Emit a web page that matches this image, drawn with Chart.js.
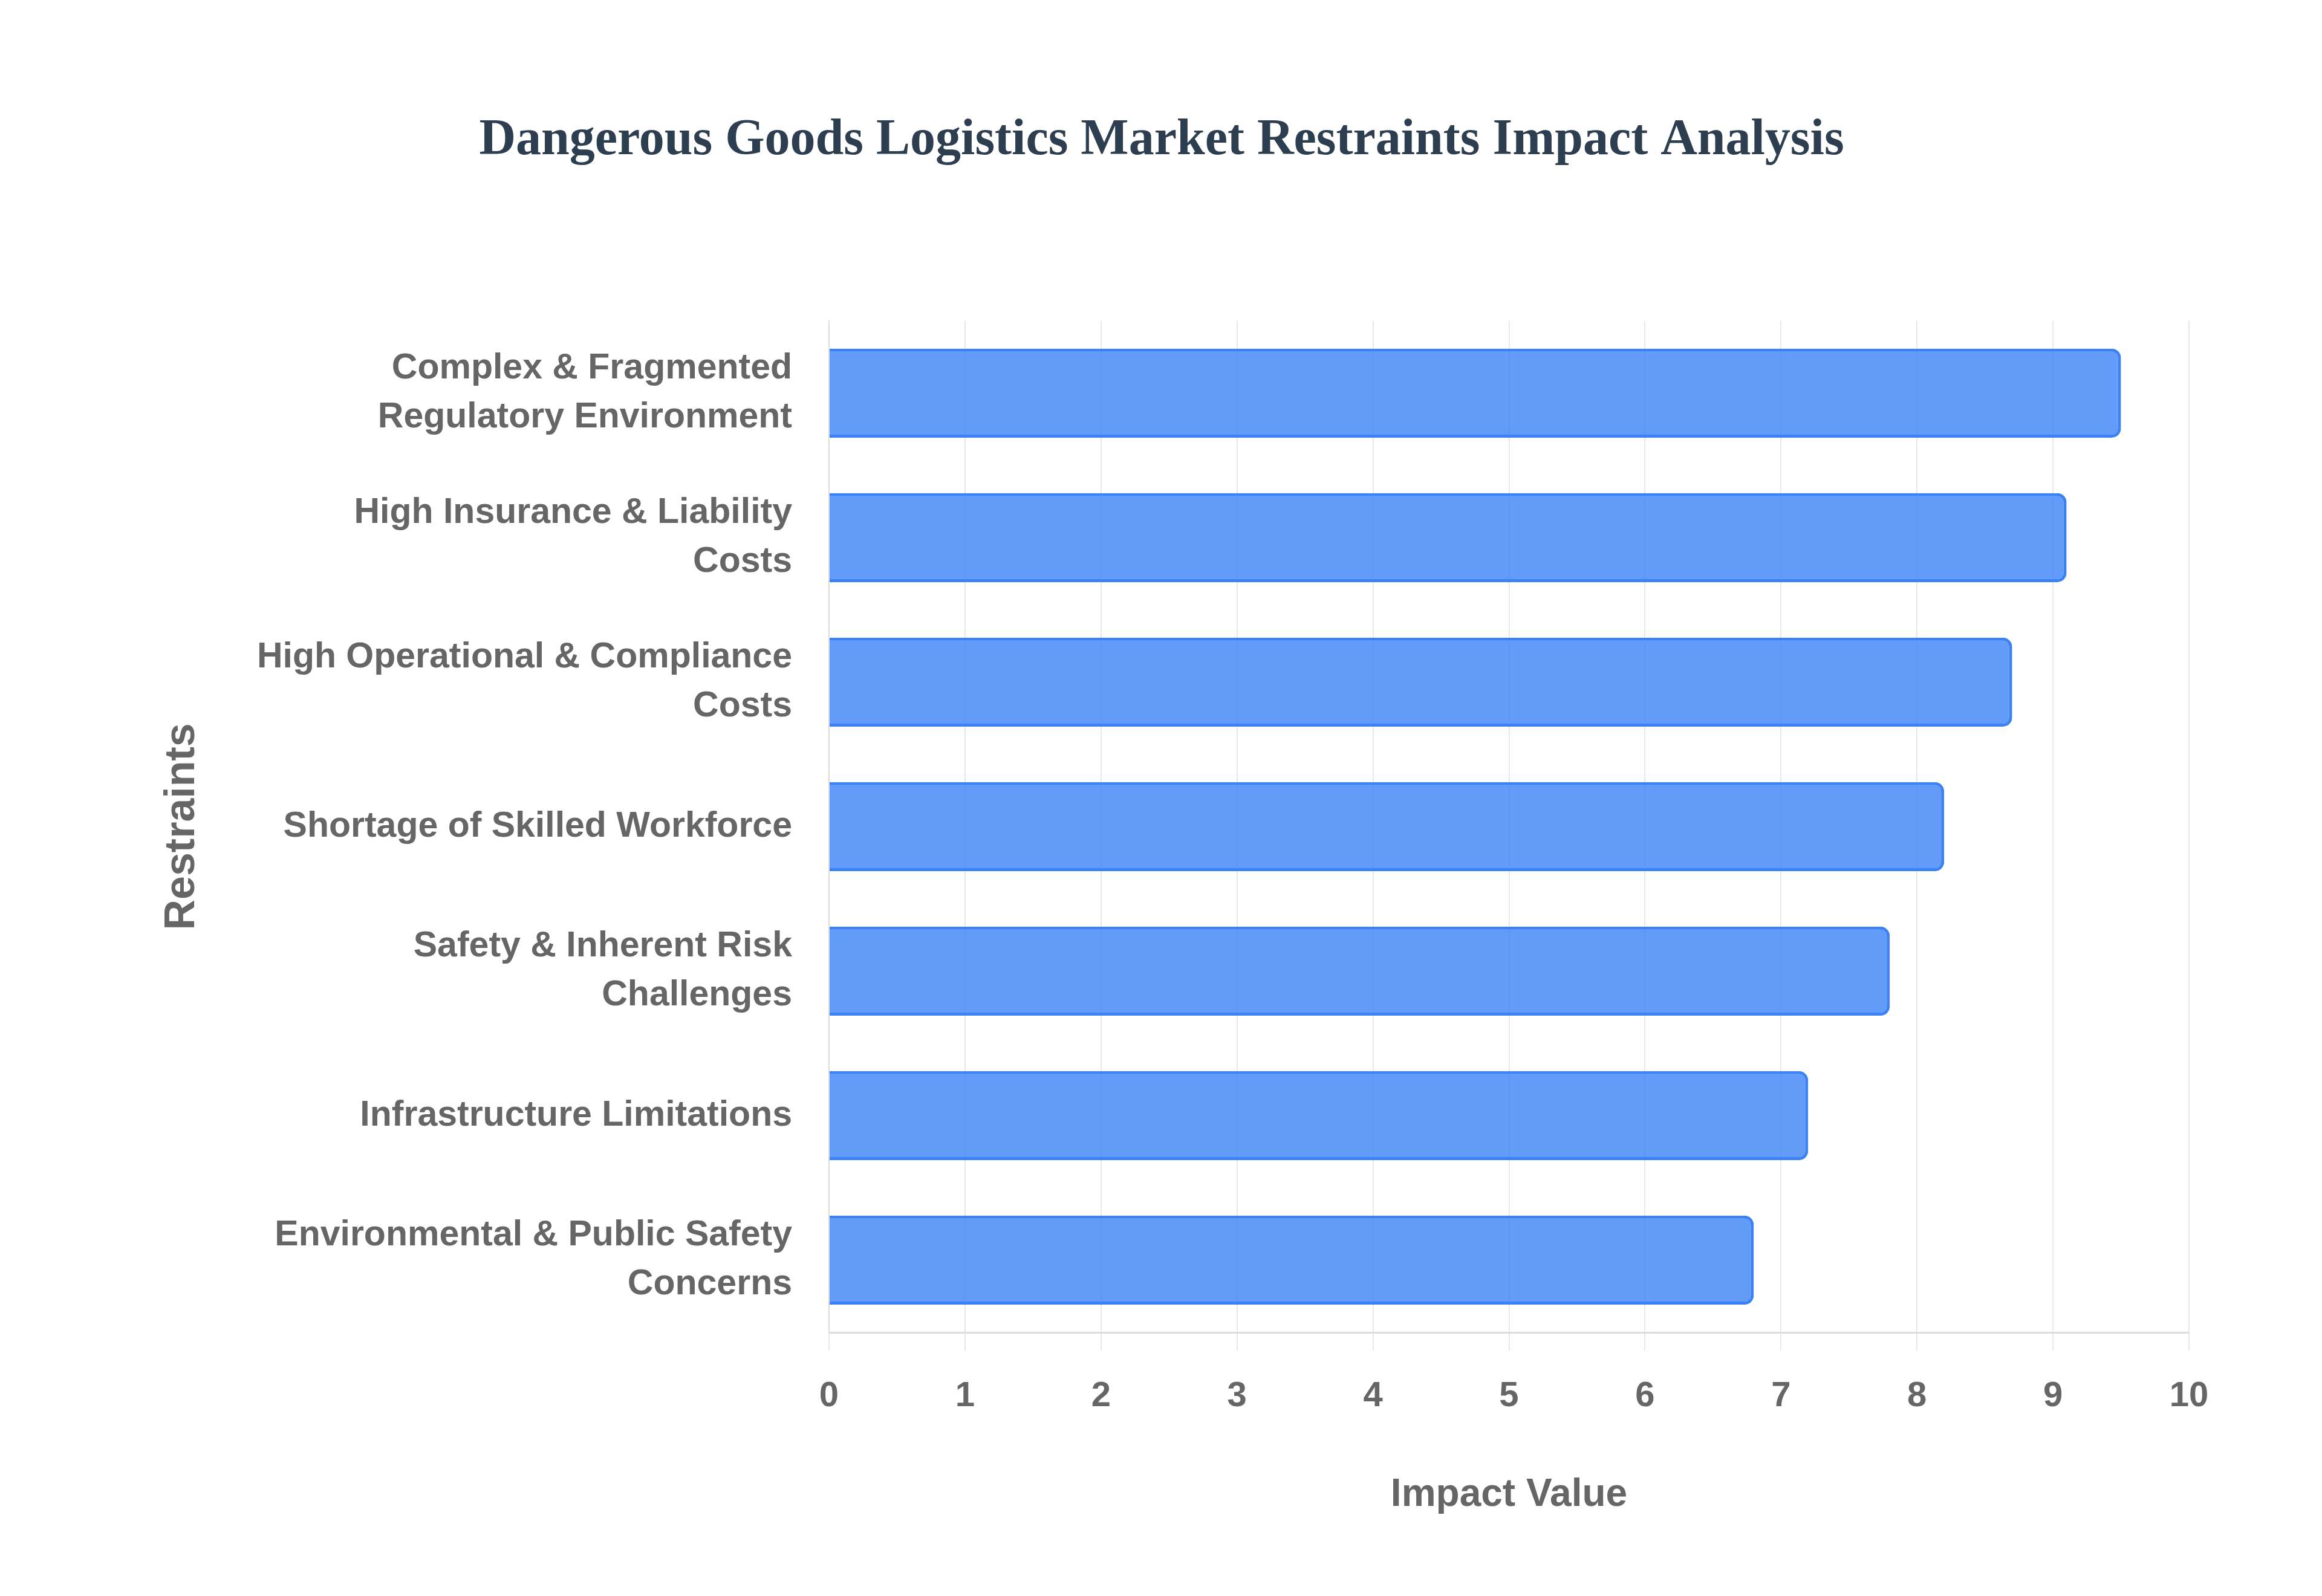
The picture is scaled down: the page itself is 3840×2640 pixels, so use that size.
<!DOCTYPE html>
<html>
<head>
<meta charset="utf-8">
<script src="https://cdn.jsdelivr.net/npm/chart.js@4.4.1/dist/chart.umd.min.js"></script>
<style>
  html, body { margin: 0; padding: 0; background: #fff; }
  #wrap { width: 3840px; height: 2640px; position: relative; }
</style>
</head>
<body>
<div id="wrap"><canvas id="chart"></canvas></div>
<script>
// === DATA ===
const restraints = [
  ['Complex & Fragmented', 'Regulatory Environment'],
  ['High Insurance & Liability', 'Costs'],
  ['High Operational & Compliance', 'Costs'],
  'Shortage of Skilled Workforce',
  ['Safety & Inherent Risk', 'Challenges'],
  'Infrastructure Limitations',
  ['Environmental & Public Safety', 'Concerns']
];
const impactValues = [9.5, 9.1, 8.7, 8.2, 7.8, 7.2, 6.8];
const xMin = 0, xMax = 10, xStep = 1;

const sans = "'Liberation Sans', Arial, sans-serif";
const tickColor = '#666666';

new Chart(document.getElementById('chart'), {
  type: 'bar',
  data: {
    labels: restraints,
    datasets: [{
      label: 'Impact Value',
      data: impactValues,
      backgroundColor: 'rgba(59,130,246,0.8)',
      borderColor: 'rgb(59,130,246)',
      borderWidth: 5,
      borderRadius: 15,
      borderSkipped: 'start',
      categoryPercentage: 0.8,
      barPercentage: 0.77
    }]
  },
  options: {
    indexAxis: 'y',
    responsive: true,
    maintainAspectRatio: false,
    devicePixelRatio: 1,
    animation: false,
    layout: { padding: { top: 0, left: 222, right: 220, bottom: 124 } },
    plugins: {
      legend: { display: false },
      tooltip: { enabled: false },
      title: {
        display: true,
        text: 'Dangerous Goods Logistics Market Restraints Impact Analysis',
        color: '#2c3e50',
        font: { family: "'Liberation Serif', 'Times New Roman', serif", size: 84, weight: 'bold' },
        padding: { top: 183, bottom: 247 }
      }
    },
    scales: {
      x: {
        min: xMin, max: xMax,
        ticks: { stepSize: xStep, color: tickColor, padding: 41, font: { family: sans, size: 58, weight: 'bold' } },
        grid: { color: 'rgba(0,0,0,0.09)', lineWidth: 2, tickLength: 30 },
        border: { color: '#dddddd', width: 3 },
        title: { display: true, text: 'Impact Value', color: tickColor, font: { family: sans, size: 64, weight: 'bold' } },
        afterFit: (s) => { s.height = 312; }
      },
      y: {
        ticks: { color: tickColor, padding: 61, font: { family: sans, size: 59, weight: 'bold', lineHeight: 1.37 } },
        grid: { display: false, drawTicks: false },
        border: { display: true, color: '#dddddd', width: 2 },
        title: {
          display: true, text: 'Restraints', color: tickColor,
          padding: { top: 38, bottom: 4 },
          font: { family: sans, size: 70, weight: 'bold' }
        },
        afterFit: (s) => { s.width = 1149; }
      }
    }
  }
});
</script>
</body>
</html>
